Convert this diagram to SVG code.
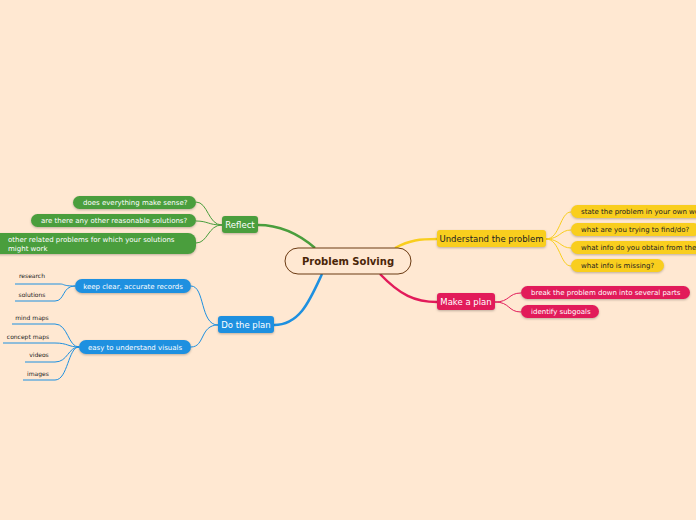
<svg xmlns="http://www.w3.org/2000/svg" width="696" height="520" viewBox="0 0 696 520">
<style>
text{font-family:"DejaVu Sans","Liberation Sans",sans-serif;font-size:7px}
.w{fill:#fff}.k{fill:#222}
.sh{filter:drop-shadow(0 1px 1px rgba(0,0,0,0.25))}
.y{fill:#F9CE1E}.r{fill:#E21B5A}.g{fill:#4A9E3D}.b{fill:#1E90E0}
.cy{stroke:#F9CE1E;fill:none}.cr{stroke:#E21B5A;fill:none}.cg{stroke:#4A9E3D;fill:none}.cb{stroke:#1E90E0;fill:none}
</style>
<rect width="696" height="520" fill="#FFE8D2"/>
<g id="connectors">
<path class="cy" stroke-width="2.5" d="M395 248 C410 240 420 239 437 239"/>
<path class="cr" stroke-width="2.5" d="M380 274 C400 295 415 302 437 302"/>
<path class="cg" stroke-width="2.5" d="M315 248 C300 235 280 225 258 225"/>
<path class="cb" stroke-width="2.5" d="M322 274 C310 300 300 325 274 325"/>
<g stroke-width="1">
<path class="cy" d="M546 239 C560 239 560 212 571 212 M546 239 C560 239 560 230 571 230 M546 239 C560 239 560 248 571 248 M546 239 C560 239 560 266 571 266"/>
<path class="cr" d="M495 302 C510 302 508 293 521 293 M495 302 C510 302 508 312 521 312"/>
<path class="cg" d="M222 225 C208 225 208 202 196 202 M222 225 C208 225 208 221 196 221 M222 225 C208 225 208 243 196 243"/>
<path class="cb" d="M218 325 C200 325 205 286 191 286 M218 325 C200 325 205 347 191 347"/>
<path class="cb" d="M75 286 C62 286 65 284 60 284 L15 284 M75 286 C62 286 65 301 55 301 L15 301"/>
<path class="cb" d="M79 347 C68 347 68 324 55 324 L12 324 M79 347 C68 347 68 343 55 343 L3 343 M79 347 C68 347 68 362 55 362 L25 362 M79 347 C68 347 68 380 55 380 L23 380"/>
</g>
</g>
<g id="center"><rect x="285" y="248" width="126" height="26" rx="13" fill="#FFE8D2" stroke="#6B3A12" stroke-width="1"/><text x="348" y="265" text-anchor="middle" style="font-size:10px;font-weight:bold" fill="#4A2508">Problem Solving</text></g>
<g id="understand"><rect class="y sh" x="437" y="230" width="109" height="17" rx="3"/><text class="k" x="491.5" y="242" text-anchor="middle" style="font-size:8.5px">Understand the problem</text></g>
<g id="u1"><rect class="y sh" x="571" y="205" width="140" height="13" rx="6.5"/><text class="k" x="581" y="214">state the problem in your own words</text></g>
<g id="u2"><rect class="y sh" x="571" y="223" width="129" height="13" rx="6.5"/><text class="k" x="581" y="232">what are you trying to find/do?</text></g>
<g id="u3"><rect class="y sh" x="571" y="241" width="140" height="13" rx="6.5"/><text class="k" x="581" y="250">what info do you obtain from the problem?</text></g>
<g id="u4"><rect class="y sh" x="571" y="259" width="93" height="13" rx="6.5"/><text class="k" x="581" y="268">what info is missing?</text></g>
<g id="plan"><rect class="r sh" x="437" y="293" width="58" height="17" rx="3"/><text class="w" x="466" y="305" text-anchor="middle" style="font-size:8.5px">Make a plan</text></g>
<g id="p1"><rect class="r sh" x="521" y="286" width="169" height="13" rx="6.5"/><text class="w" x="531" y="295">break the problem down into several parts</text></g>
<g id="p2"><rect class="r sh" x="521" y="305" width="78" height="13" rx="6.5"/><text class="w" x="531" y="314">identify subgoals</text></g>
<g id="reflect"><rect class="g sh" x="222" y="216" width="36" height="17" rx="3"/><text class="w" x="240" y="228" text-anchor="middle" style="font-size:8.5px">Reflect</text></g>
<g id="r1"><rect class="g sh" x="73" y="196" width="123" height="13" rx="6.5"/><text class="w" x="83" y="205">does everything make sense?</text></g>
<g id="r2"><rect class="g sh" x="31" y="214" width="165" height="13" rx="6.5"/><text class="w" x="41" y="223">are there any other reasonable solutions?</text></g>
<g id="r3"><rect class="g sh" x="-10" y="233" width="206" height="21" rx="8"/><text class="w" x="8" y="242">other related problems for which your solutions</text><text class="w" x="8" y="251">might work</text></g>
<g id="doplan"><rect class="b sh" x="218" y="316" width="56" height="17" rx="3"/><text class="w" x="246" y="328" text-anchor="middle" style="font-size:8.5px">Do the plan</text></g>
<g id="d1"><rect class="b sh" x="75" y="279" width="116" height="14" rx="7"/><text class="w" x="133" y="289" text-anchor="middle">keep clear, accurate records</text></g>
<g id="d2"><rect class="b sh" x="79" y="340" width="112" height="14" rx="7"/><text class="w" x="135" y="350" text-anchor="middle">easy to understand visuals</text></g>
<g id="leaves" style="font-size:6px">
<text class="k" x="32" y="278" text-anchor="middle" style="font-size:6px">research</text>
<text class="k" x="32" y="297" text-anchor="middle" style="font-size:6px">solutions</text>
<text class="k" x="32" y="320" text-anchor="middle" style="font-size:6px">mind maps</text>
<text class="k" x="28" y="339" text-anchor="middle" style="font-size:6px">concept maps</text>
<text class="k" x="39" y="357" text-anchor="middle" style="font-size:6px">videos</text>
<text class="k" x="38" y="376" text-anchor="middle" style="font-size:6px">images</text>
</g>
</svg>
